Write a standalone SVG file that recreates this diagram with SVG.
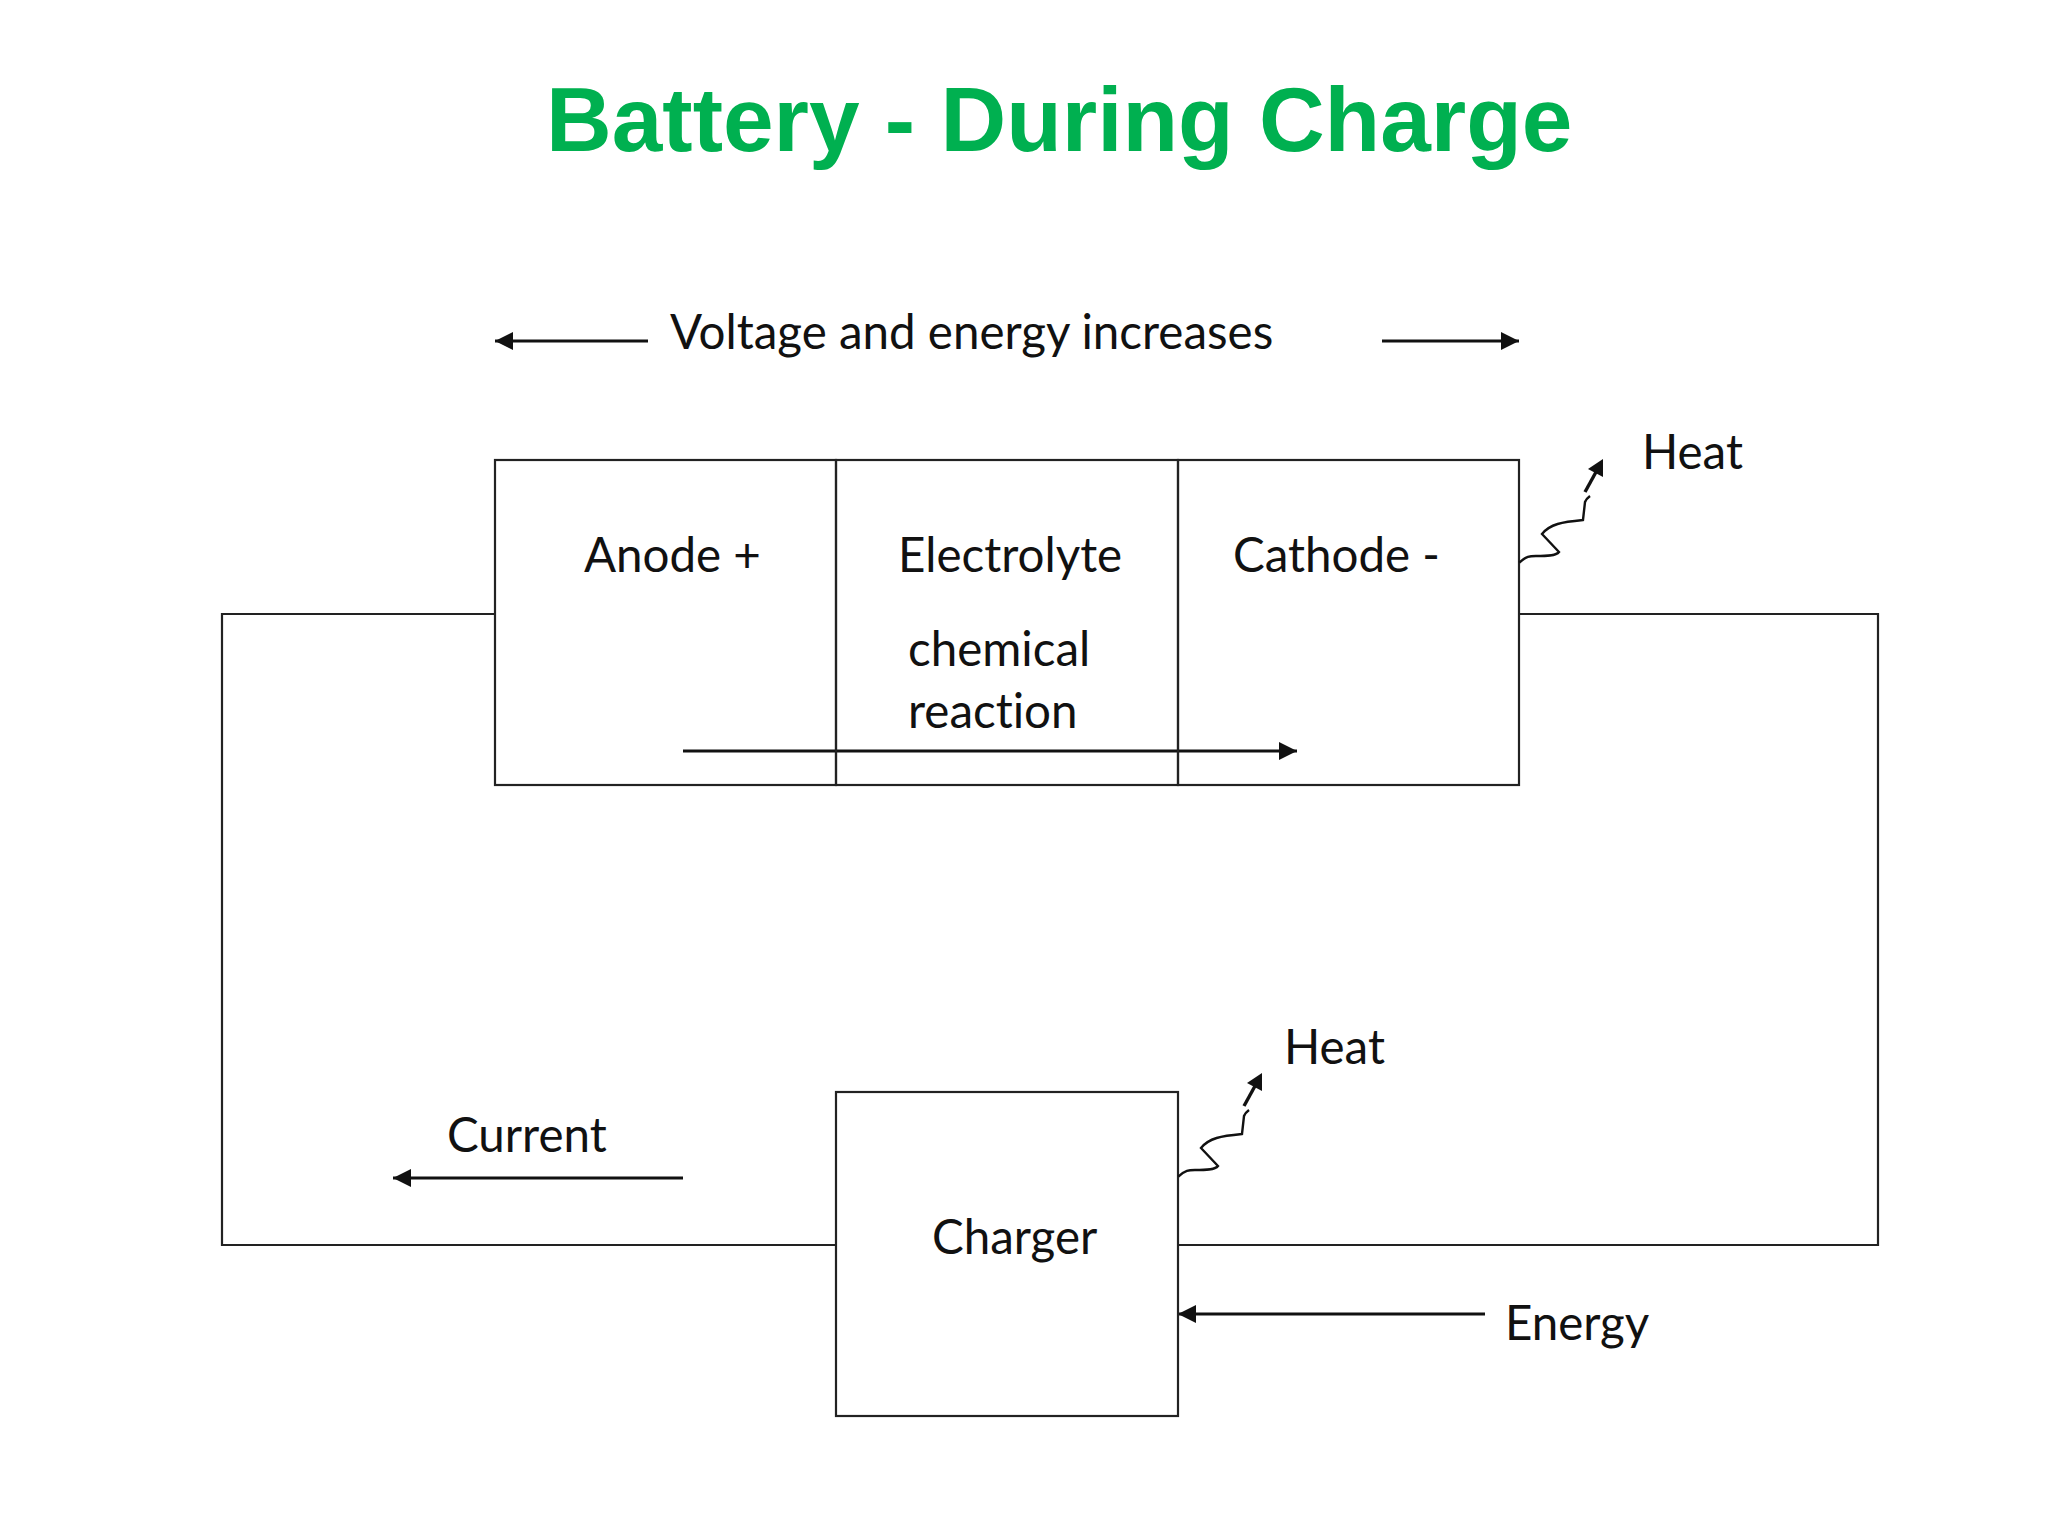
<svg xmlns="http://www.w3.org/2000/svg" width="2048" height="1536" viewBox="0 0 2048 1536">
<style>
.l{font-family:"Lato","Liberation Sans",sans-serif;font-size:47.5px;fill:#111;font-variant-ligatures:none}
.b{fill:none;stroke:#222;stroke-width:2.2}
.w{fill:none;stroke:#222;stroke-width:2.2}
.a{fill:none;stroke:#111;stroke-width:2.8;marker-end:url(#h)}
.s{fill:none;stroke:#111;stroke-width:2.4}
.d{fill:none;stroke:#111;stroke-width:3.4}
</style>
<defs><marker id="h" markerUnits="userSpaceOnUse" markerWidth="19" markerHeight="18" refX="18" refY="9" orient="auto"><path d="M0 0L18 9L0 18z" fill="#111"/></marker></defs>
<rect width="2048" height="1536" fill="#fff"/>
<text id="title" x="546" y="151" font-family="Liberation Sans,sans-serif" font-weight="700" font-size="91" fill="#00B050">Battery - During Charge</text>
<g id="connectors">
<path class="w" d="M495 614H222V1245H836M1519 614H1878V1245H1178"/>
<path class="a" d="M648 341H495"/>
<path class="a" d="M1382 341H1519"/>
<path class="a" d="M683 751H1297"/>
<path class="a" d="M683 1178H393"/>
<path class="a" d="M1485 1314H1178"/>
</g>
<g id="anode"><rect class="b" x="495" y="460" width="341" height="325"/><text class="l" x="584" y="572">Anode +</text></g>
<g id="electrolyte"><rect class="b" x="836" y="460" width="342" height="325"/><text class="l" x="898" y="572">Electrolyte</text><text class="l" x="908" y="666">chemical</text><text class="l" x="908" y="728">reaction</text></g>
<g id="cathode"><rect class="b" x="1178" y="460" width="341" height="325"/><text class="l" x="1233" y="572">Cathode -</text></g>
<g id="charger"><rect class="b" x="836" y="1092" width="342" height="324"/><text class="l" x="932" y="1254">Charger</text></g>
<g id="heat-top">
<path class="s" d="M1519.3 562.7C1526 556 1530 556 1536 556C1546 556 1556 556 1559 552L1542 534C1550 524 1562 522 1583 520L1585 502Q1586 499 1590 496"/>
<path class="d" d="M1585 492L1596 472"/><path d="M1603 459V477L1588 469z" fill="#111"/>
<text class="l" x="1642" y="469">Heat</text>
</g>
<g id="heat-charger">
<path class="s" d="M1178.3 1176.7C1185 1170 1189 1170 1195 1170C1205 1170 1215 1170 1218 1166L1201 1148C1209 1138 1221 1136 1242 1134L1244 1116Q1245 1113 1249 1110"/>
<path class="d" d="M1244 1106L1255 1086"/><path d="M1262 1073V1091L1247 1083z" fill="#111"/>
<text class="l" x="1284" y="1064">Heat</text>
</g>
<text class="l" x="670" y="349">Voltage and energy increases</text>
<text class="l" x="447" y="1152">Current</text>
<text class="l" x="1505" y="1340">Energy</text>
</svg>
